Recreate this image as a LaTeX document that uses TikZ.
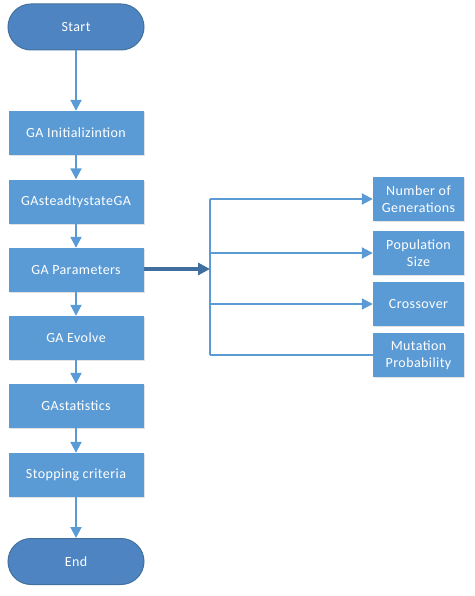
\documentclass[tikz,border=0pt]{standalone}
\usepackage{fontspec}
\setmainfont[LetterSpace=3]{Carlito}
\usetikzlibrary{arrows.meta,shadows}
\definecolor{boxblue}{HTML}{5B9BD5}
\definecolor{termblue}{HTML}{4E84C2}
\definecolor{darkblue}{HTML}{41719C}
\definecolor{thickblue}{HTML}{3F6E9F}
\tikzset{
  every node/.style={font=\fontsize{14}{17}\selectfont, text=white, align=center, inner sep=0pt},
  procbox/.style={draw=none, fill=boxblue, minimum width=135pt, minimum height=44pt,
    drop shadow={opacity=0.22, shadow xshift=1.2pt, shadow yshift=-1.2pt}},
  parbox/.style={draw=none, fill=boxblue, minimum width=91pt, minimum height=44pt,
    drop shadow={opacity=0.22, shadow xshift=1.2pt, shadow yshift=-1.2pt}},
  termbox/.style={draw=darkblue, line width=1pt, fill=termblue, rounded corners=23pt,
    minimum width=136pt, minimum height=46pt},
  conn/.style={draw=boxblue, line width=2pt, -{Triangle[length=11pt,width=11pt]}},
  plainconn/.style={draw=boxblue, line width=2pt},
  thickconn/.style={draw=thickblue, line width=3.5pt, -{Triangle[length=12pt,width=12pt]}},
}
\begin{document}
\begin{tikzpicture}[x=1pt,y=-1pt]
\useasboundingbox (0,0) rectangle (474,596);
\node[termbox] (start) at (76,27) {Start};
\node[procbox] (init) at (76,133) {GA Initializintion};
\node[procbox] (steady) at (76,201.5) {GAsteadtystateGA};
\node[procbox] (param) at (76,270) {GA Parameters};
\node[procbox] (evolve) at (76,338) {GA Evolve};
\node[procbox] (stats) at (76,406) {GAstatistics};
\node[procbox] (stop) at (76,475) {Stopping criteria};
\node[termbox] (end) at (76,561.5) {End};

\node[parbox] (ng) at (418.5,199) {Number of\\Generations};
\node[parbox] (ps) at (418.5,253) {Population\\Size};
\node[parbox] (co) at (418.5,304) {Crossover};
\node[parbox] (mp) at (418.5,355) {Mutation\\Probability};

\coordinate (b1) at (210,199);
\coordinate (b2) at (210,253);
\coordinate (b3) at (210,304);
\coordinate (b4) at (210,355);
\coordinate (bm) at (210,269);

\draw[conn] (start) -- (init);
\draw[conn] (init) -- (steady);
\draw[conn] (steady) -- (param);
\draw[conn] (param) -- (evolve);
\draw[conn] (evolve) -- (stats);
\draw[conn] (stats) -- (stop);
\draw[conn] (stop) -- (end);

\draw[plainconn] (b1) -- (b4);
\draw[conn] (b1) -- (ng);
\draw[conn] (b2) -- (ps);
\draw[conn] (b3) -- (co);
\draw[plainconn] (b4) -- (mp);
\draw[thickconn] (param.east |- bm) -- (bm);
\end{tikzpicture}
\end{document}
